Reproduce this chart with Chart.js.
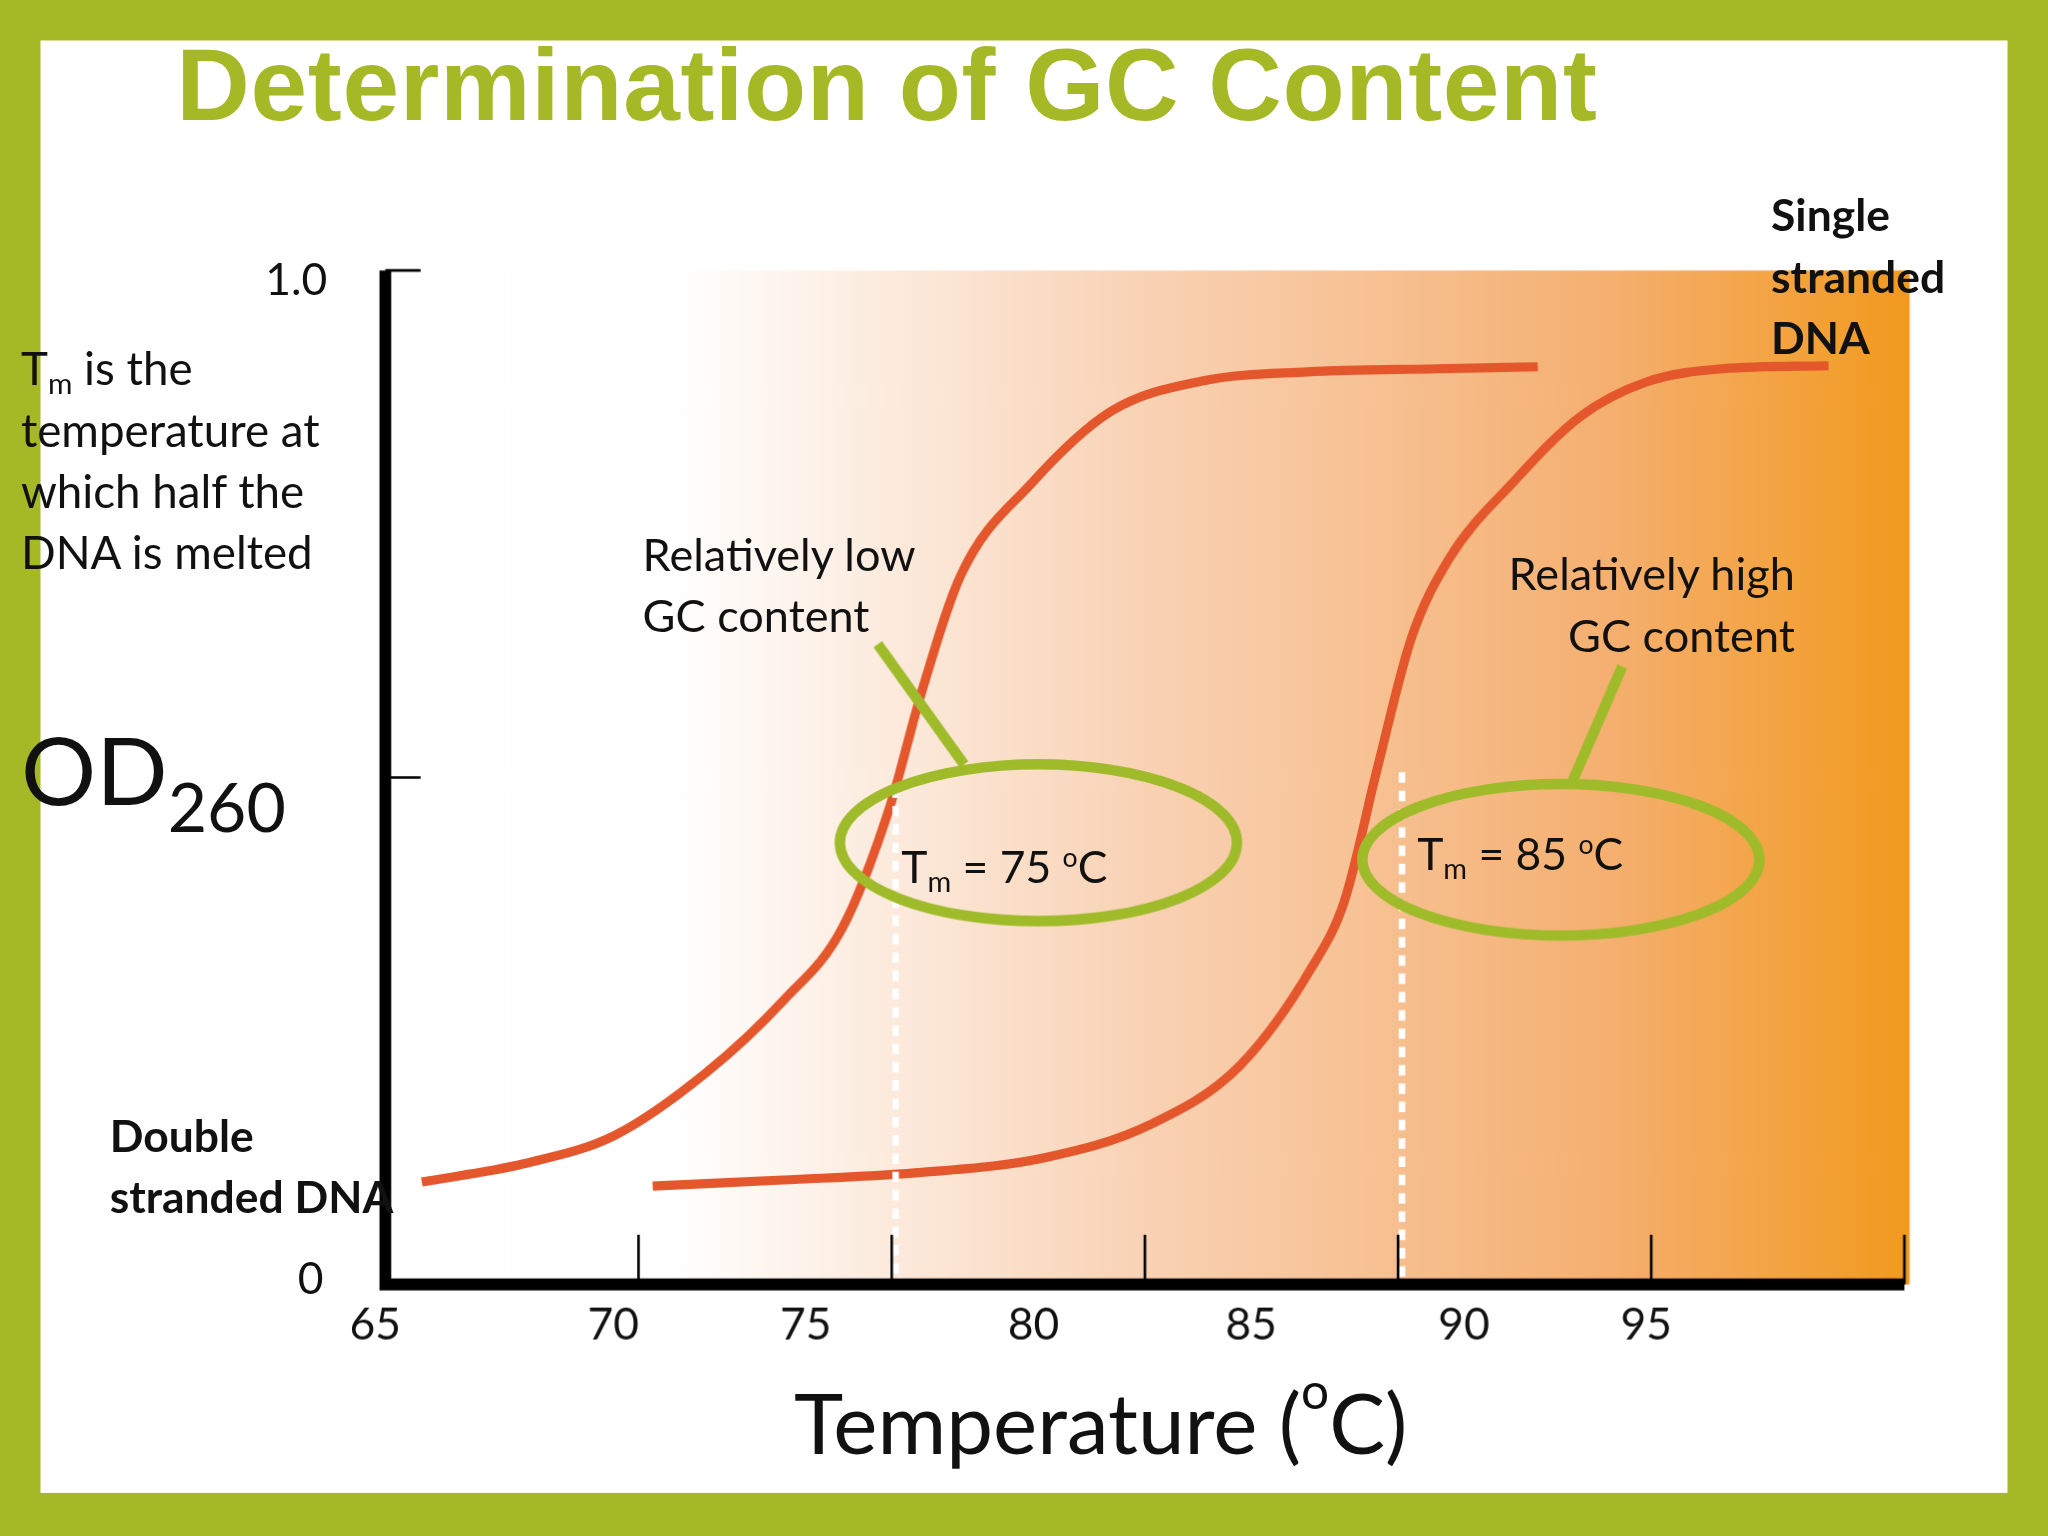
<!DOCTYPE html>
<html><head><meta charset="utf-8">
<script src="https://cdn.jsdelivr.net/npm/chart.js@4"></script>
<style>
html,body{margin:0;padding:0;background:#a5b926;overflow:hidden}
#stage{position:absolute;left:0;top:0;width:1568px;height:1176px;transform:scale(1.306122);transform-origin:0 0;background:#a5b926}
#inner{position:absolute;left:31px;top:31px;width:1506px;height:1112px;background:#fff}
#cw{position:absolute;left:0;top:0;width:1568px;height:1176px}
.t{position:absolute;font-family:Lato,"Open Sans",sans-serif;color:#111;white-space:nowrap}
.b{font-weight:bold}
sub{font-size:65%;vertical-align:-0.3em;line-height:0}
sup{font-size:60%;vertical-align:0.6em;line-height:0}
</style></head><body>
<div id="stage">
<div id="inner"></div>
<div id="cw"><canvas id="c"></canvas></div>
<div class="t" style="left:135px;top:20px;font-family:'Liberation Sans',Arial,sans-serif;font-weight:bold;font-size:78px;letter-spacing:0.5px;color:#a5b926">Determination of GC Content</div>
<div class="t" style="left:16px;top:258px;font-size:35px;line-height:47px">T<sub>m</sub> is the<br>temperature at<br>which half the<br>DNA is melted</div>
<div class="t" style="left:16px;top:545px;font-size:72px">OD<sub style="font-size:52px;vertical-align:-0.4em">260</sub></div>
<div class="t b" style="left:1356px;top:140px;font-size:34px;line-height:47px">Single<br>stranded<br>DNA</div>
<div class="t b" style="left:84px;top:845px;font-size:34px;line-height:47px">Double<br>stranded DNA</div>
<div class="t" style="left:492px;top:400px;font-size:34.5px;line-height:47px">Relatively low<br>GC content</div>
<div class="t" style="left:1155px;top:415px;font-size:34.5px;line-height:47px;text-align:right">Relatively high<br>GC content</div>
<div class="t" style="left:690px;top:642px;font-size:34px">T<sub>m</sub> = 75 <sup>o</sup>C</div>
<div class="t" style="left:1085px;top:632px;font-size:34px">T<sub>m</sub> = 85 <sup>o</sup>C</div>
<div class="t" style="left:203px;top:192px;font-size:34px">1.0</div>
<div class="t" style="left:228px;top:957px;font-size:34px">0</div>
<div class="t" style="left:608px;top:1050px;font-size:64px">Temperature (<sup style="font-size:38px;vertical-align:0.9em">o</sup>C)</div>
</div>
<script>
const lowGC_x=[65.72,67.73,69.53,71.34,72.86,74.02,74.95,75.59,76.37,77.76,79.33,81.13,83.20,85.77,87.76];
const lowGC_y=[0.101,0.119,0.147,0.209,0.280,0.351,0.469,0.584,0.700,0.790,0.861,0.891,0.900,0.903,0.905];
const highGC_x=[70.28,72.86,75.46,78.02,80.08,81.88,83.30,83.94,84.59,85.26,86.0,87.29,88.6,89.9,91.4,93.5];
const highGC_y=[0.097,0.103,0.110,0.125,0.157,0.216,0.313,0.378,0.509,0.637,0.715,0.792,0.856,0.890,0.903,0.906];
const xTickLabels=["65","70","75","80","85","90","95"];
const xTickLabelAt=[64.8,69.5,73.3,77.8,82.1,86.3,89.9];
const xTickMarks=[70,75,80,85,90,95];
const tmValues=[75,85];

const pts=(xs,ys)=>xs.map((x,i)=>({x,y:ys[i]}));
const deco={id:'deco',
beforeDatasetsDraw(ch){const {ctx,chartArea:a}=ch;const g=ctx.createLinearGradient(a.left,0,a.right+4,0);
g.addColorStop(0,'rgba(255,255,255,0)');g.addColorStop(0.19,'#ffffff');g.addColorStop(0.5,'#f9d2b4');g.addColorStop(0.8,'#f5b071');g.addColorStop(1,'#f29a1e');
ctx.fillStyle=g;ctx.fillRect(a.left,a.top,a.right-a.left+4,a.bottom-a.top);},
afterDatasetsDraw(ch){const {ctx,chartArea:a,scales:{x,y}}=ch;ctx.save();
ctx.strokeStyle='#fff';ctx.lineWidth=5;ctx.setLineDash([8,6]);
[[tmValues[0],0.49],[tmValues[1],0.505]].forEach(([v,t])=>{const px=x.getPixelForValue(v)+3;ctx.beginPath();ctx.moveTo(px,y.getPixelForValue(t));ctx.lineTo(px,a.bottom);ctx.stroke();});
ctx.setLineDash([]);
ctx.strokeStyle='#9fbb2a';ctx.lineWidth=8;
ctx.beginPath();ctx.ellipse(795,645,152,60,0,0,Math.PI*2);ctx.stroke();
ctx.beginPath();ctx.ellipse(1195,658,152,58,0,0,Math.PI*2);ctx.stroke();
ctx.beginPath();ctx.moveTo(672,493);ctx.lineTo(738,585);ctx.stroke();
ctx.beginPath();ctx.moveTo(1242,510);ctx.lineTo(1203,600);ctx.stroke();
ctx.strokeStyle='#000';ctx.lineWidth=9;ctx.beginPath();ctx.moveTo(a.left,a.top);ctx.lineTo(a.left,a.bottom);ctx.lineTo(a.right,a.bottom);ctx.stroke();
ctx.lineWidth=2;
xTickMarks.forEach(v=>{const px=x.getPixelForValue(v);ctx.beginPath();ctx.moveTo(px,a.bottom);ctx.lineTo(px,a.bottom-38);ctx.stroke();});
[1,0.5].forEach(v=>{const py=y.getPixelForValue(v);ctx.beginPath();ctx.moveTo(a.left,py);ctx.lineTo(a.left+27,py);ctx.stroke();});
ctx.fillStyle='#111';ctx.font='34px Lato, "Open Sans", sans-serif';ctx.textAlign='center';ctx.textBaseline='top';
xTickLabels.forEach((l,i)=>ctx.fillText(l,x.getPixelForValue(xTickLabelAt[i]),997));
ctx.restore();}};
new Chart(document.getElementById('c'),{type:'scatter',
data:{datasets:[
{label:'Low GC',data:pts(lowGC_x,lowGC_y),showLine:true,borderColor:'#e4562b',borderWidth:7,pointRadius:0,cubicInterpolationMode:'monotone'},
{label:'High GC',data:pts(highGC_x,highGC_y),showLine:true,borderColor:'#e4562b',borderWidth:7,pointRadius:0,cubicInterpolationMode:'monotone'}]},
options:{responsive:true,maintainAspectRatio:false,animation:false,devicePixelRatio:1.31,
layout:{padding:{left:295,top:207,right:110,bottom:193}},
plugins:{legend:{display:false},tooltip:{enabled:false}},
scales:{x:{type:'linear',min:65,max:95,display:false},y:{min:0,max:1,display:false}}},
plugins:[deco]});
</script></body></html>
